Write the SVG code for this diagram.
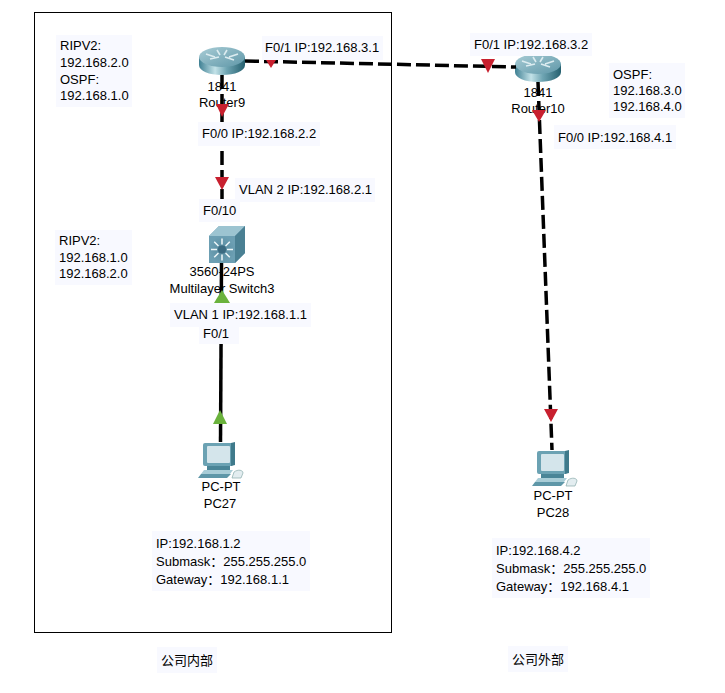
<svg xmlns="http://www.w3.org/2000/svg" width="725" height="693" viewBox="0 0 725 693">
<style>
text{font-family:"Liberation Sans",Arial,"Noto Sans CJK SC",sans-serif;font-size:13px;fill:#000}
.m{text-anchor:middle}
.bg{fill:#f8f9ff}
.dash{fill:none;stroke:#000;stroke-width:3.500;stroke-dasharray:14 5}
.solid{fill:none;stroke:#000;stroke-width:3.500}
.red{fill:#c8202f}
.green{fill:#6ab23c}
</style>
<defs>
<linearGradient id="rs" x1="0" x2="1" y1="0" y2="0"><stop offset="0" stop-color="#3f8093"/><stop offset=".35" stop-color="#c3e2e8"/><stop offset=".6" stop-color="#6fa5b3"/><stop offset="1" stop-color="#25606f"/></linearGradient>
<linearGradient id="rt" x1="0" x2="1" y1="0" y2="1"><stop offset="0" stop-color="#a9cdd6"/><stop offset="1" stop-color="#5f97a8"/></linearGradient>
<radialGradient id="sw"><stop offset="0" stop-color="#3b6478"/><stop offset=".35" stop-color="#5f92a6"/><stop offset="1" stop-color="#6c9fb3"/></radialGradient>
<g id="router">
<path d="M0 10V18C0 24 10 28 23 28S46 24 46 18V10Z" fill="url(#rs)"/>
<ellipse cx="23" cy="10" rx="23" ry="10" fill="url(#rt)"/>
<path d="M7 7l9 3M11 12l9-2M39 7l-9 3M35 13l-9-3M18 3l3 5M28 3l-3 5" fill="none" stroke="#dcecf0" stroke-width="1.600"/>
</g>
<g id="switch">
<path d="M0 10L10 0H36V27L26 37H0Z" fill="#6c9fb3"/>
<path d="M0 10L10 0H36L26 10Z" fill="#9cc4d1"/>
<path d="M26 10L36 0V27L26 37Z" fill="#4a8093"/>
<rect x="0" y="10" width="26" height="27" fill="url(#sw)"/>
<path d="M13 23.500L13 12M13 23.500L13 35M13 23.500L2 23.500M13 23.500L24 23.500M13 23.500L5 15.500M13 23.500L21 15.500M13 23.500L5 31.500M13 23.500L21 31.500" stroke="#eef6f8" stroke-width="1.500" stroke-dasharray="6 6" stroke-dashoffset="-5"/>
<circle cx="13" cy="23.500" r="4" fill="#3b6a80"/>
</g>
<g id="pc">
<rect x="5" y="1" width="30" height="23" rx="2" fill="#6ba2b3"/>
<rect x="9" y="4" width="23" height="17" rx="1" fill="#d4e5eb"/>
<path d="M33 1L37 0V23L33 24Z" fill="#3f7a8b"/>
<path d="M9 24H32V28H9Z" fill="#4a8597"/>
<path d="M6 28H35L32 32H3Z" fill="#a9cdd7"/>
<path d="M3 32H33L29 36H0Z" fill="#5f97a8"/>
<path d="M36 30C40 27 45 28 45 31L43 36H34Z" fill="#e3edf0" stroke="#8aa" stroke-width=".700"/>
</g>
</defs>

<rect x="34.500" y="12.500" width="357" height="620" fill="none" stroke="#000"/>

<g id="nodes">
<g id="router9"><use href="#router" x="199" y="47"/><text class="m" x="222" y="91">1841</text><text class="m" x="222" y="107">Router9</text></g>
<g id="router10"><use href="#router" x="515" y="54"/><text class="m" x="538" y="97">1841</text><text class="m" x="538" y="113">Router10</text></g>
<g id="switch3"><use href="#switch" x="209" y="226"/><text class="m" x="222" y="276">3560-24PS</text><text class="m" x="222" y="293">Multilayer Switch3</text></g>
<g id="pc27"><use href="#pc" x="198" y="442"/><text class="m" x="221" y="491">PC-PT</text><text class="m" x="220" y="508">PC27</text></g>
<g id="pc28"><use href="#pc" x="532" y="450"/><text class="m" x="553" y="500">PC-PT</text><text class="m" x="553" y="517">PC28</text></g>
</g>

<g id="connectors">
<path class="dash" d="M245 61L516 67"/>
<path class="dash" d="M222 75V226"/>
<path class="solid" d="M221.500 263L220.500 442"/>
<path class="dash" d="M538 82L552 450"/>
<path class="red" d="M266 60H276L271 68Z"/>
<path class="red" d="M481 59H495L488 73Z"/>
<path class="red" d="M216 104H229L222 117Z"/>
<path class="red" d="M215 177H229L222 190Z"/>
<path class="red" d="M532 110H546L539 122Z"/>
<path class="red" d="M544 409H558L551 422Z"/>
<path class="green" d="M214 303H230L222 290Z"/>
<path class="green" d="M213 424H227L220 410Z"/>
</g>

<g id="labels">
<g><rect class="bg" x="56" y="35" width="76" height="72"/><text x="60" y="50">RIPV2:</text><text x="60" y="67">192.168.2.0</text><text x="60" y="84">OSPF:</text><text x="60" y="100">192.168.1.0</text></g>
<g><rect class="bg" x="55" y="230" width="77" height="55"/><text x="59" y="245">RIPV2:</text><text x="59" y="262">192.168.1.0</text><text x="59" y="278">192.168.2.0</text></g>
<g><rect class="bg" x="262" y="36" width="121" height="24"/><text x="265" y="52">F0/1 IP:192.168.3.1</text></g>
<g><rect class="bg" x="198" y="122" width="122" height="24"/><text x="202" y="138">F0/0 IP:192.168.2.2</text></g>
<g><rect class="bg" x="235" y="178" width="140" height="24"/><text x="239" y="194">VLAN 2 IP:192.168.2.1</text></g>
<g><rect class="bg" x="199" y="199" width="41" height="23"/><text x="203" y="215">F0/10</text></g>
<g><rect class="bg" x="170" y="303" width="141" height="24"/><text x="174" y="319">VLAN 1 IP:192.168.1.1</text></g>
<g><rect class="bg" x="199" y="326" width="40" height="18"/><text x="203" y="338">F0/1</text></g>
<g><rect class="bg" x="470" y="33" width="122" height="23"/><text x="474" y="49">F0/1 IP:192.168.3.2</text></g>
<g><rect class="bg" x="609" y="63" width="76" height="55"/><text x="613" y="79">OSPF:</text><text x="613" y="95">192.168.3.0</text><text x="613" y="111">192.168.4.0</text></g>
<g><rect class="bg" x="554" y="125" width="122" height="24"/><text x="558" y="142">F0/0 IP:192.168.4.1</text></g>
<g><rect class="bg" x="152" y="531" width="158" height="60"/><text x="156" y="548">IP:192.168.1.2</text><text x="156" y="566">Submask：255.255.255.0</text><text x="156" y="584">Gateway：192.168.1.1</text></g>
<g><rect class="bg" x="492" y="538" width="158" height="60"/><text x="496" y="555">IP:192.168.4.2</text><text x="496" y="573">Submask：255.255.255.0</text><text x="496" y="591">Gateway：192.168.4.1</text></g>
<g><rect class="bg" x="157" y="647" width="60" height="26"/><text x="161" y="665">公司内部</text></g>
<g><rect class="bg" x="508" y="646" width="60" height="26"/><text x="512" y="664">公司外部</text></g>
</g>
</svg>
